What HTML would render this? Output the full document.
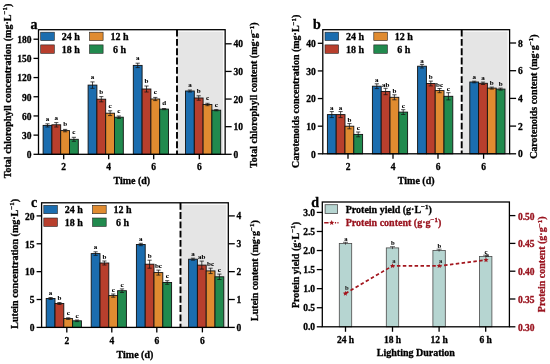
<!DOCTYPE html>
<html><head><meta charset="utf-8"><style>
html,body{margin:0;padding:0;background:#fff;}
svg{display:block;will-change:transform;}
text{font-family:"Liberation Serif", serif;font-weight:bold;stroke-width:0.3px;}
</style></head><body>
<svg width="550" height="364" viewBox="0 0 550 364">
<rect width="550" height="364" fill="#fff"/>
<rect x="177.00" y="31.70" width="46.15" height="122.60" fill="#e5e5e5"/>
<rect x="43.10" y="125.40" width="8.80" height="28.90" fill="#1b6daf" stroke="#111" stroke-width="0.9"/>
<path d="M47.50 123.80V127.00M45.40 123.80H49.60M45.40 127.00H49.60" stroke="#111" stroke-width="0.75" fill="none"/>
<text x="47.50" y="120.70" font-size="7.0" text-anchor="middle" fill="#000" stroke="#000" style="stroke-width:0.05px">a</text>
<rect x="51.90" y="124.80" width="8.80" height="29.50" fill="#b83f2d" stroke="#111" stroke-width="0.9"/>
<path d="M56.30 122.60V127.00M54.20 122.60H58.40M54.20 127.00H58.40" stroke="#111" stroke-width="0.75" fill="none"/>
<text x="56.30" y="119.50" font-size="7.0" text-anchor="middle" fill="#000" stroke="#000" style="stroke-width:0.05px">a</text>
<rect x="60.70" y="130.60" width="8.80" height="23.70" fill="#e08b30" stroke="#111" stroke-width="0.9"/>
<path d="M65.10 129.40V131.80M63.00 129.40H67.20M63.00 131.80H67.20" stroke="#111" stroke-width="0.75" fill="none"/>
<text x="65.10" y="126.30" font-size="7.0" text-anchor="middle" fill="#000" stroke="#000" style="stroke-width:0.05px">b</text>
<rect x="69.50" y="139.30" width="8.80" height="15.00" fill="#218a4e" stroke="#111" stroke-width="0.9"/>
<path d="M73.90 137.30V141.30M71.80 137.30H76.00M71.80 141.30H76.00" stroke="#111" stroke-width="0.75" fill="none"/>
<text x="73.90" y="134.20" font-size="7.0" text-anchor="middle" fill="#000" stroke="#000" style="stroke-width:0.05px">c</text>
<rect x="88.10" y="85.10" width="8.80" height="69.20" fill="#1b6daf" stroke="#111" stroke-width="0.9"/>
<path d="M92.50 81.90V88.30M90.40 81.90H94.60M90.40 88.30H94.60" stroke="#111" stroke-width="0.75" fill="none"/>
<text x="92.50" y="78.80" font-size="7.0" text-anchor="middle" fill="#000" stroke="#000" style="stroke-width:0.05px">a</text>
<rect x="96.90" y="99.20" width="8.80" height="55.10" fill="#b83f2d" stroke="#111" stroke-width="0.9"/>
<path d="M101.30 96.60V101.80M99.20 96.60H103.40M99.20 101.80H103.40" stroke="#111" stroke-width="0.75" fill="none"/>
<text x="101.30" y="93.50" font-size="7.0" text-anchor="middle" fill="#000" stroke="#000" style="stroke-width:0.05px">b</text>
<rect x="105.70" y="113.20" width="8.80" height="41.10" fill="#e08b30" stroke="#111" stroke-width="0.9"/>
<path d="M110.10 110.80V115.60M108.00 110.80H112.20M108.00 115.60H112.20" stroke="#111" stroke-width="0.75" fill="none"/>
<text x="110.10" y="107.70" font-size="7.0" text-anchor="middle" fill="#000" stroke="#000" style="stroke-width:0.05px">c</text>
<rect x="114.50" y="117.20" width="8.80" height="37.10" fill="#218a4e" stroke="#111" stroke-width="0.9"/>
<path d="M118.90 116.00V118.40M116.80 116.00H121.00M116.80 118.40H121.00" stroke="#111" stroke-width="0.75" fill="none"/>
<text x="118.90" y="112.90" font-size="7.0" text-anchor="middle" fill="#000" stroke="#000" style="stroke-width:0.05px">c</text>
<rect x="133.30" y="65.40" width="8.80" height="88.90" fill="#1b6daf" stroke="#111" stroke-width="0.9"/>
<path d="M137.70 63.20V67.60M135.60 63.20H139.80M135.60 67.60H139.80" stroke="#111" stroke-width="0.75" fill="none"/>
<text x="137.70" y="60.10" font-size="7.0" text-anchor="middle" fill="#000" stroke="#000" style="stroke-width:0.05px">a</text>
<rect x="142.10" y="89.00" width="8.80" height="65.30" fill="#b83f2d" stroke="#111" stroke-width="0.9"/>
<path d="M146.50 86.00V92.00M144.40 86.00H148.60M144.40 92.00H148.60" stroke="#111" stroke-width="0.75" fill="none"/>
<text x="146.50" y="82.90" font-size="7.0" text-anchor="middle" fill="#000" stroke="#000" style="stroke-width:0.05px">b</text>
<rect x="150.90" y="99.00" width="8.80" height="55.30" fill="#e08b30" stroke="#111" stroke-width="0.9"/>
<path d="M155.30 97.40V100.60M153.20 97.40H157.40M153.20 100.60H157.40" stroke="#111" stroke-width="0.75" fill="none"/>
<text x="155.30" y="94.30" font-size="7.0" text-anchor="middle" fill="#000" stroke="#000" style="stroke-width:0.05px">c</text>
<rect x="159.70" y="109.10" width="8.80" height="45.20" fill="#218a4e" stroke="#111" stroke-width="0.9"/>
<path d="M164.10 108.50V109.70M162.00 108.50H166.20M162.00 109.70H166.20" stroke="#111" stroke-width="0.75" fill="none"/>
<text x="164.10" y="105.40" font-size="7.0" text-anchor="middle" fill="#000" stroke="#000" style="stroke-width:0.05px">d</text>
<rect x="185.50" y="91.00" width="8.80" height="63.30" fill="#1b6daf" stroke="#111" stroke-width="0.9"/>
<path d="M189.90 90.00V92.00M187.80 90.00H192.00M187.80 92.00H192.00" stroke="#111" stroke-width="0.75" fill="none"/>
<text x="189.90" y="86.90" font-size="7.0" text-anchor="middle" fill="#000" stroke="#000" style="stroke-width:0.05px">a</text>
<rect x="194.30" y="98.00" width="8.80" height="56.30" fill="#b83f2d" stroke="#111" stroke-width="0.9"/>
<path d="M198.70 95.80V100.20M196.60 95.80H200.80M196.60 100.20H200.80" stroke="#111" stroke-width="0.75" fill="none"/>
<text x="198.70" y="92.70" font-size="7.0" text-anchor="middle" fill="#000" stroke="#000" style="stroke-width:0.05px">b</text>
<rect x="203.10" y="104.50" width="8.80" height="49.80" fill="#e08b30" stroke="#111" stroke-width="0.9"/>
<path d="M207.50 103.30V105.70M205.40 103.30H209.60M205.40 105.70H209.60" stroke="#111" stroke-width="0.75" fill="none"/>
<text x="207.50" y="100.20" font-size="7.0" text-anchor="middle" fill="#000" stroke="#000" style="stroke-width:0.05px">c</text>
<rect x="211.90" y="110.20" width="8.80" height="44.10" fill="#218a4e" stroke="#111" stroke-width="0.9"/>
<path d="M216.30 109.60V110.80M214.20 109.60H218.40M214.20 110.80H218.40" stroke="#111" stroke-width="0.75" fill="none"/>
<text x="216.30" y="106.50" font-size="7.0" text-anchor="middle" fill="#000" stroke="#000" style="stroke-width:0.05px">c</text>
<line x1="177.00" y1="29.70" x2="177.00" y2="154.30" stroke="#000" stroke-width="1.9" stroke-dasharray="6.85 2.45"/>
<rect x="38.50" y="29.70" width="186.65" height="124.60" fill="none" stroke="#000" stroke-width="1.3"/>
<line x1="33.50" y1="154.30" x2="38.50" y2="154.30" stroke="#000" stroke-width="1.3"/>
<text x="31.50" y="158.10" font-size="9.5" text-anchor="end" fill="#000" stroke="#000" >0</text>
<line x1="33.50" y1="135.12" x2="38.50" y2="135.12" stroke="#000" stroke-width="1.3"/>
<text x="31.50" y="138.92" font-size="9.5" text-anchor="end" fill="#000" stroke="#000" >30</text>
<line x1="33.50" y1="115.94" x2="38.50" y2="115.94" stroke="#000" stroke-width="1.3"/>
<text x="31.50" y="119.74" font-size="9.5" text-anchor="end" fill="#000" stroke="#000" >60</text>
<line x1="33.50" y1="96.75" x2="38.50" y2="96.75" stroke="#000" stroke-width="1.3"/>
<text x="31.50" y="100.55" font-size="9.5" text-anchor="end" fill="#000" stroke="#000" >90</text>
<line x1="33.50" y1="77.57" x2="38.50" y2="77.57" stroke="#000" stroke-width="1.3"/>
<text x="31.50" y="81.37" font-size="9.5" text-anchor="end" fill="#000" stroke="#000" >120</text>
<line x1="33.50" y1="58.39" x2="38.50" y2="58.39" stroke="#000" stroke-width="1.3"/>
<text x="31.50" y="62.19" font-size="9.5" text-anchor="end" fill="#000" stroke="#000" >150</text>
<line x1="33.50" y1="39.21" x2="38.50" y2="39.21" stroke="#000" stroke-width="1.3"/>
<text x="31.50" y="43.01" font-size="9.5" text-anchor="end" fill="#000" stroke="#000" >180</text>
<line x1="225.15" y1="154.30" x2="231.65" y2="154.30" stroke="#000" stroke-width="1.3"/>
<text x="233.45" y="157.80" font-size="9.5" text-anchor="start" fill="#000" stroke="#000" >0</text>
<line x1="225.15" y1="126.68" x2="231.65" y2="126.68" stroke="#000" stroke-width="1.3"/>
<text x="233.45" y="130.18" font-size="9.5" text-anchor="start" fill="#000" stroke="#000" >10</text>
<line x1="225.15" y1="99.05" x2="231.65" y2="99.05" stroke="#000" stroke-width="1.3"/>
<text x="233.45" y="102.55" font-size="9.5" text-anchor="start" fill="#000" stroke="#000" >20</text>
<line x1="225.15" y1="71.43" x2="231.65" y2="71.43" stroke="#000" stroke-width="1.3"/>
<text x="233.45" y="74.93" font-size="9.5" text-anchor="start" fill="#000" stroke="#000" >30</text>
<line x1="225.15" y1="43.80" x2="231.65" y2="43.80" stroke="#000" stroke-width="1.3"/>
<text x="233.45" y="47.30" font-size="9.5" text-anchor="start" fill="#000" stroke="#000" >40</text>
<line x1="63.70" y1="154.30" x2="63.70" y2="159.30" stroke="#000" stroke-width="1.3"/>
<text x="63.70" y="169.70" font-size="9.5" text-anchor="middle" fill="#000" stroke="#000" >2</text>
<line x1="108.70" y1="154.30" x2="108.70" y2="159.30" stroke="#000" stroke-width="1.3"/>
<text x="108.70" y="169.70" font-size="9.5" text-anchor="middle" fill="#000" stroke="#000" >4</text>
<line x1="153.70" y1="154.30" x2="153.70" y2="159.30" stroke="#000" stroke-width="1.3"/>
<text x="153.70" y="169.70" font-size="9.5" text-anchor="middle" fill="#000" stroke="#000" >6</text>
<line x1="199.30" y1="154.30" x2="199.30" y2="159.30" stroke="#000" stroke-width="1.3"/>
<text x="199.30" y="169.70" font-size="9.5" text-anchor="middle" fill="#000" stroke="#000" >6</text>
<rect x="40.70" y="32.20" width="13.6" height="8.4" fill="#1b6daf" stroke="#222" stroke-width="0.6"/>
<text x="70.70" y="40.00" font-size="10" text-anchor="middle" fill="#000" stroke="#000" >24 h</text>
<rect x="40.70" y="44.90" width="13.6" height="8.4" fill="#b83f2d" stroke="#222" stroke-width="0.6"/>
<text x="70.70" y="52.70" font-size="10" text-anchor="middle" fill="#000" stroke="#000" >18 h</text>
<rect x="89.50" y="32.20" width="13.6" height="8.4" fill="#e08b30" stroke="#222" stroke-width="0.6"/>
<text x="119.50" y="40.00" font-size="10" text-anchor="middle" fill="#000" stroke="#000" >12 h</text>
<rect x="89.50" y="44.90" width="13.6" height="8.4" fill="#218a4e" stroke="#222" stroke-width="0.6"/>
<text x="119.50" y="52.70" font-size="10" text-anchor="middle" fill="#000" stroke="#000" >6 h</text>
<text x="30.40" y="29.00" font-size="14" text-anchor="start" fill="#000" stroke="#000" >a</text>
<text x="131.82" y="183.70" font-size="10" text-anchor="middle" fill="#000" stroke="#000" >Time (d)</text>
<text transform="translate(10.60,91.00) rotate(-90)" x="0" y="0" font-size="10" text-anchor="middle" fill="#000" stroke="#000">Total chlorophyll concentration (mg·L<tspan font-size="7.00" dy="-3.60">−1</tspan><tspan dy="3.60">)</tspan></text>
<text transform="translate(257.30,95.10) rotate(-90)" x="0" y="0" font-size="10" text-anchor="middle" fill="#000" stroke="#000">Total chlorophyll content (mg·g<tspan font-size="7.00" dy="-3.60">−1</tspan><tspan dy="3.60">)</tspan></text>
<rect x="461.70" y="31.70" width="45.90" height="122.10" fill="#e5e5e5"/>
<rect x="327.40" y="114.60" width="8.80" height="39.20" fill="#1b6daf" stroke="#111" stroke-width="0.9"/>
<path d="M331.80 111.60V117.60M329.70 111.60H333.90M329.70 117.60H333.90" stroke="#111" stroke-width="0.75" fill="none"/>
<text x="331.80" y="109.80" font-size="7.0" text-anchor="middle" fill="#000" stroke="#000" style="stroke-width:0.05px">a</text>
<rect x="336.20" y="114.60" width="8.80" height="39.20" fill="#b83f2d" stroke="#111" stroke-width="0.9"/>
<path d="M340.60 111.60V117.60M338.50 111.60H342.70M338.50 117.60H342.70" stroke="#111" stroke-width="0.75" fill="none"/>
<text x="340.60" y="109.80" font-size="7.0" text-anchor="middle" fill="#000" stroke="#000" style="stroke-width:0.05px">a</text>
<rect x="345.00" y="126.20" width="8.80" height="27.60" fill="#e08b30" stroke="#111" stroke-width="0.9"/>
<path d="M349.40 123.60V128.80M347.30 123.60H351.50M347.30 128.80H351.50" stroke="#111" stroke-width="0.75" fill="none"/>
<text x="349.40" y="121.80" font-size="7.0" text-anchor="middle" fill="#000" stroke="#000" style="stroke-width:0.05px">b</text>
<rect x="353.80" y="134.40" width="8.80" height="19.40" fill="#218a4e" stroke="#111" stroke-width="0.9"/>
<path d="M358.20 132.00V136.80M356.10 132.00H360.30M356.10 136.80H360.30" stroke="#111" stroke-width="0.75" fill="none"/>
<text x="358.20" y="130.20" font-size="7.0" text-anchor="middle" fill="#000" stroke="#000" style="stroke-width:0.05px">c</text>
<rect x="372.40" y="86.20" width="8.80" height="67.60" fill="#1b6daf" stroke="#111" stroke-width="0.9"/>
<path d="M376.80 83.80V88.60M374.70 83.80H378.90M374.70 88.60H378.90" stroke="#111" stroke-width="0.75" fill="none"/>
<text x="376.80" y="82.00" font-size="7.0" text-anchor="middle" fill="#000" stroke="#000" style="stroke-width:0.05px">a</text>
<rect x="381.20" y="91.50" width="8.80" height="62.30" fill="#b83f2d" stroke="#111" stroke-width="0.9"/>
<path d="M385.60 88.30V94.70M383.50 88.30H387.70M383.50 94.70H387.70" stroke="#111" stroke-width="0.75" fill="none"/>
<text x="385.60" y="86.50" font-size="7.0" text-anchor="middle" fill="#000" stroke="#000" style="stroke-width:0.05px">ab</text>
<rect x="390.00" y="97.30" width="8.80" height="56.50" fill="#e08b30" stroke="#111" stroke-width="0.9"/>
<path d="M394.40 94.80V99.80M392.30 94.80H396.50M392.30 99.80H396.50" stroke="#111" stroke-width="0.75" fill="none"/>
<text x="394.40" y="93.00" font-size="7.0" text-anchor="middle" fill="#000" stroke="#000" style="stroke-width:0.05px">b</text>
<rect x="398.80" y="112.10" width="8.80" height="41.70" fill="#218a4e" stroke="#111" stroke-width="0.9"/>
<path d="M403.20 109.70V114.50M401.10 109.70H405.30M401.10 114.50H405.30" stroke="#111" stroke-width="0.75" fill="none"/>
<text x="403.20" y="107.90" font-size="7.0" text-anchor="middle" fill="#000" stroke="#000" style="stroke-width:0.05px">c</text>
<rect x="417.60" y="66.20" width="8.80" height="87.60" fill="#1b6daf" stroke="#111" stroke-width="0.9"/>
<path d="M422.00 64.40V68.00M419.90 64.40H424.10M419.90 68.00H424.10" stroke="#111" stroke-width="0.75" fill="none"/>
<text x="422.00" y="62.60" font-size="7.0" text-anchor="middle" fill="#000" stroke="#000" style="stroke-width:0.05px">a</text>
<rect x="426.40" y="83.50" width="8.80" height="70.30" fill="#b83f2d" stroke="#111" stroke-width="0.9"/>
<path d="M430.80 81.10V85.90M428.70 81.10H432.90M428.70 85.90H432.90" stroke="#111" stroke-width="0.75" fill="none"/>
<text x="430.80" y="79.30" font-size="7.0" text-anchor="middle" fill="#000" stroke="#000" style="stroke-width:0.05px">b</text>
<rect x="435.20" y="90.60" width="8.80" height="63.20" fill="#e08b30" stroke="#111" stroke-width="0.9"/>
<path d="M439.60 88.50V92.70M437.50 88.50H441.70M437.50 92.70H441.70" stroke="#111" stroke-width="0.75" fill="none"/>
<text x="439.60" y="86.70" font-size="7.0" text-anchor="middle" fill="#000" stroke="#000" style="stroke-width:0.05px">bc</text>
<rect x="444.00" y="96.30" width="8.80" height="57.50" fill="#218a4e" stroke="#111" stroke-width="0.9"/>
<path d="M448.40 92.70V99.90M446.30 92.70H450.50M446.30 99.90H450.50" stroke="#111" stroke-width="0.75" fill="none"/>
<text x="448.40" y="90.90" font-size="7.0" text-anchor="middle" fill="#000" stroke="#000" style="stroke-width:0.05px">c</text>
<rect x="469.80" y="82.00" width="8.80" height="71.80" fill="#1b6daf" stroke="#111" stroke-width="0.9"/>
<path d="M474.20 81.20V82.80M472.10 81.20H476.30M472.10 82.80H476.30" stroke="#111" stroke-width="0.75" fill="none"/>
<text x="474.20" y="79.40" font-size="7.0" text-anchor="middle" fill="#000" stroke="#000" style="stroke-width:0.05px">a</text>
<rect x="478.60" y="83.30" width="8.80" height="70.50" fill="#b83f2d" stroke="#111" stroke-width="0.9"/>
<path d="M483.00 82.10V84.50M480.90 82.10H485.10M480.90 84.50H485.10" stroke="#111" stroke-width="0.75" fill="none"/>
<text x="483.00" y="80.30" font-size="7.0" text-anchor="middle" fill="#000" stroke="#000" style="stroke-width:0.05px">a</text>
<rect x="487.40" y="88.10" width="8.80" height="65.70" fill="#e08b30" stroke="#111" stroke-width="0.9"/>
<path d="M491.80 87.10V89.10M489.70 87.10H493.90M489.70 89.10H493.90" stroke="#111" stroke-width="0.75" fill="none"/>
<text x="491.80" y="85.30" font-size="7.0" text-anchor="middle" fill="#000" stroke="#000" style="stroke-width:0.05px">b</text>
<rect x="496.20" y="89.10" width="8.80" height="64.70" fill="#218a4e" stroke="#111" stroke-width="0.9"/>
<path d="M500.60 88.10V90.10M498.50 88.10H502.70M498.50 90.10H502.70" stroke="#111" stroke-width="0.75" fill="none"/>
<text x="500.60" y="86.30" font-size="7.0" text-anchor="middle" fill="#000" stroke="#000" style="stroke-width:0.05px">b</text>
<line x1="461.70" y1="29.70" x2="461.70" y2="153.80" stroke="#000" stroke-width="1.9" stroke-dasharray="6.85 2.45"/>
<rect x="322.80" y="29.70" width="186.80" height="124.10" fill="none" stroke="#000" stroke-width="1.3"/>
<line x1="317.80" y1="153.80" x2="322.80" y2="153.80" stroke="#000" stroke-width="1.3"/>
<text x="315.80" y="157.60" font-size="9.5" text-anchor="end" fill="#000" stroke="#000" >0</text>
<line x1="317.80" y1="126.18" x2="322.80" y2="126.18" stroke="#000" stroke-width="1.3"/>
<text x="315.80" y="129.98" font-size="9.5" text-anchor="end" fill="#000" stroke="#000" >10</text>
<line x1="317.80" y1="98.55" x2="322.80" y2="98.55" stroke="#000" stroke-width="1.3"/>
<text x="315.80" y="102.35" font-size="9.5" text-anchor="end" fill="#000" stroke="#000" >20</text>
<line x1="317.80" y1="70.93" x2="322.80" y2="70.93" stroke="#000" stroke-width="1.3"/>
<text x="315.80" y="74.73" font-size="9.5" text-anchor="end" fill="#000" stroke="#000" >30</text>
<line x1="317.80" y1="43.30" x2="322.80" y2="43.30" stroke="#000" stroke-width="1.3"/>
<text x="315.80" y="47.10" font-size="9.5" text-anchor="end" fill="#000" stroke="#000" >40</text>
<line x1="509.60" y1="153.80" x2="516.10" y2="153.80" stroke="#000" stroke-width="1.3"/>
<text x="517.90" y="157.30" font-size="9.5" text-anchor="start" fill="#000" stroke="#000" >0</text>
<line x1="509.60" y1="126.10" x2="516.10" y2="126.10" stroke="#000" stroke-width="1.3"/>
<text x="517.90" y="129.60" font-size="9.5" text-anchor="start" fill="#000" stroke="#000" >2</text>
<line x1="509.60" y1="98.40" x2="516.10" y2="98.40" stroke="#000" stroke-width="1.3"/>
<text x="517.90" y="101.90" font-size="9.5" text-anchor="start" fill="#000" stroke="#000" >4</text>
<line x1="509.60" y1="70.70" x2="516.10" y2="70.70" stroke="#000" stroke-width="1.3"/>
<text x="517.90" y="74.20" font-size="9.5" text-anchor="start" fill="#000" stroke="#000" >6</text>
<line x1="509.60" y1="43.00" x2="516.10" y2="43.00" stroke="#000" stroke-width="1.3"/>
<text x="517.90" y="46.50" font-size="9.5" text-anchor="start" fill="#000" stroke="#000" >8</text>
<line x1="348.00" y1="153.80" x2="348.00" y2="158.80" stroke="#000" stroke-width="1.3"/>
<text x="348.00" y="170.20" font-size="9.5" text-anchor="middle" fill="#000" stroke="#000" >2</text>
<line x1="393.00" y1="153.80" x2="393.00" y2="158.80" stroke="#000" stroke-width="1.3"/>
<text x="393.00" y="170.20" font-size="9.5" text-anchor="middle" fill="#000" stroke="#000" >4</text>
<line x1="438.00" y1="153.80" x2="438.00" y2="158.80" stroke="#000" stroke-width="1.3"/>
<text x="438.00" y="170.20" font-size="9.5" text-anchor="middle" fill="#000" stroke="#000" >6</text>
<line x1="483.60" y1="153.80" x2="483.60" y2="158.80" stroke="#000" stroke-width="1.3"/>
<text x="483.60" y="170.20" font-size="9.5" text-anchor="middle" fill="#000" stroke="#000" >6</text>
<rect x="325.00" y="32.20" width="13.6" height="8.4" fill="#1b6daf" stroke="#222" stroke-width="0.6"/>
<text x="355.00" y="40.00" font-size="10" text-anchor="middle" fill="#000" stroke="#000" >24 h</text>
<rect x="325.00" y="44.90" width="13.6" height="8.4" fill="#b83f2d" stroke="#222" stroke-width="0.6"/>
<text x="355.00" y="52.70" font-size="10" text-anchor="middle" fill="#000" stroke="#000" >18 h</text>
<rect x="373.80" y="32.20" width="13.6" height="8.4" fill="#e08b30" stroke="#222" stroke-width="0.6"/>
<text x="403.80" y="40.00" font-size="10" text-anchor="middle" fill="#000" stroke="#000" >12 h</text>
<rect x="373.80" y="44.90" width="13.6" height="8.4" fill="#218a4e" stroke="#222" stroke-width="0.6"/>
<text x="403.80" y="52.70" font-size="10" text-anchor="middle" fill="#000" stroke="#000" >6 h</text>
<text x="313.00" y="29.00" font-size="14" text-anchor="start" fill="#000" stroke="#000" >b</text>
<text x="416.20" y="184.20" font-size="10" text-anchor="middle" fill="#000" stroke="#000" >Time (d)</text>
<text transform="translate(299.30,91.25) rotate(-90)" x="0" y="0" font-size="10" text-anchor="middle" fill="#000" stroke="#000">Carotenoids concentration (mg·L<tspan font-size="7.00" dy="-3.60">−1</tspan><tspan dy="3.60">)</tspan></text>
<text transform="translate(537.00,96.60) rotate(-90)" x="0" y="0" font-size="10" text-anchor="middle" fill="#000" stroke="#000">Carotenoids content (mg·g<tspan font-size="7.00" dy="-3.60">−1</tspan><tspan dy="3.60">)</tspan></text>
<rect x="180.50" y="204.80" width="45.80" height="122.60" fill="#e5e5e5"/>
<rect x="46.20" y="298.50" width="8.80" height="28.90" fill="#1b6daf" stroke="#111" stroke-width="0.9"/>
<path d="M50.60 297.50V299.50M48.50 297.50H52.70M48.50 299.50H52.70" stroke="#111" stroke-width="0.75" fill="none"/>
<text x="50.60" y="295.10" font-size="7.0" text-anchor="middle" fill="#000" stroke="#000" style="stroke-width:0.05px">a</text>
<rect x="55.00" y="303.50" width="8.80" height="23.90" fill="#b83f2d" stroke="#111" stroke-width="0.9"/>
<path d="M59.40 302.50V304.50M57.30 302.50H61.50M57.30 304.50H61.50" stroke="#111" stroke-width="0.75" fill="none"/>
<text x="59.40" y="300.10" font-size="7.0" text-anchor="middle" fill="#000" stroke="#000" style="stroke-width:0.05px">b</text>
<rect x="63.80" y="318.60" width="8.80" height="8.80" fill="#e08b30" stroke="#111" stroke-width="0.9"/>
<path d="M68.20 317.80V319.40M66.10 317.80H70.30M66.10 319.40H70.30" stroke="#111" stroke-width="0.75" fill="none"/>
<text x="68.20" y="315.40" font-size="7.0" text-anchor="middle" fill="#000" stroke="#000" style="stroke-width:0.05px">c</text>
<rect x="72.60" y="320.80" width="8.80" height="6.60" fill="#218a4e" stroke="#111" stroke-width="0.9"/>
<path d="M77.00 320.00V321.60M74.90 320.00H79.10M74.90 321.60H79.10" stroke="#111" stroke-width="0.75" fill="none"/>
<text x="77.00" y="317.60" font-size="7.0" text-anchor="middle" fill="#000" stroke="#000" style="stroke-width:0.05px">c</text>
<rect x="91.20" y="253.60" width="8.80" height="73.80" fill="#1b6daf" stroke="#111" stroke-width="0.9"/>
<path d="M95.60 251.80V255.40M93.50 251.80H97.70M93.50 255.40H97.70" stroke="#111" stroke-width="0.75" fill="none"/>
<text x="95.60" y="249.40" font-size="7.0" text-anchor="middle" fill="#000" stroke="#000" style="stroke-width:0.05px">a</text>
<rect x="100.00" y="263.00" width="8.80" height="64.40" fill="#b83f2d" stroke="#111" stroke-width="0.9"/>
<path d="M104.40 261.00V265.00M102.30 261.00H106.50M102.30 265.00H106.50" stroke="#111" stroke-width="0.75" fill="none"/>
<text x="104.40" y="258.60" font-size="7.0" text-anchor="middle" fill="#000" stroke="#000" style="stroke-width:0.05px">b</text>
<rect x="108.80" y="295.60" width="8.80" height="31.80" fill="#e08b30" stroke="#111" stroke-width="0.9"/>
<path d="M113.20 294.00V297.20M111.10 294.00H115.30M111.10 297.20H115.30" stroke="#111" stroke-width="0.75" fill="none"/>
<text x="113.20" y="291.60" font-size="7.0" text-anchor="middle" fill="#000" stroke="#000" style="stroke-width:0.05px">c</text>
<rect x="117.60" y="290.70" width="8.80" height="36.70" fill="#218a4e" stroke="#111" stroke-width="0.9"/>
<path d="M122.00 288.90V292.50M119.90 288.90H124.10M119.90 292.50H124.10" stroke="#111" stroke-width="0.75" fill="none"/>
<text x="122.00" y="286.50" font-size="7.0" text-anchor="middle" fill="#000" stroke="#000" style="stroke-width:0.05px">c</text>
<rect x="136.40" y="244.50" width="8.80" height="82.90" fill="#1b6daf" stroke="#111" stroke-width="0.9"/>
<path d="M140.80 243.30V245.70M138.70 243.30H142.90M138.70 245.70H142.90" stroke="#111" stroke-width="0.75" fill="none"/>
<text x="140.80" y="240.90" font-size="7.0" text-anchor="middle" fill="#000" stroke="#000" style="stroke-width:0.05px">a</text>
<rect x="145.20" y="264.20" width="8.80" height="63.20" fill="#b83f2d" stroke="#111" stroke-width="0.9"/>
<path d="M149.60 260.20V268.20M147.50 260.20H151.70M147.50 268.20H151.70" stroke="#111" stroke-width="0.75" fill="none"/>
<text x="149.60" y="257.80" font-size="7.0" text-anchor="middle" fill="#000" stroke="#000" style="stroke-width:0.05px">b</text>
<rect x="154.00" y="272.60" width="8.80" height="54.80" fill="#e08b30" stroke="#111" stroke-width="0.9"/>
<path d="M158.40 270.10V275.10M156.30 270.10H160.50M156.30 275.10H160.50" stroke="#111" stroke-width="0.75" fill="none"/>
<text x="158.40" y="267.70" font-size="7.0" text-anchor="middle" fill="#000" stroke="#000" style="stroke-width:0.05px">bc</text>
<rect x="162.80" y="282.50" width="8.80" height="44.90" fill="#218a4e" stroke="#111" stroke-width="0.9"/>
<path d="M167.20 280.70V284.30M165.10 280.70H169.30M165.10 284.30H169.30" stroke="#111" stroke-width="0.75" fill="none"/>
<text x="167.20" y="278.30" font-size="7.0" text-anchor="middle" fill="#000" stroke="#000" style="stroke-width:0.05px">c</text>
<rect x="188.60" y="259.20" width="8.80" height="68.20" fill="#1b6daf" stroke="#111" stroke-width="0.9"/>
<path d="M193.00 258.20V260.20M190.90 258.20H195.10M190.90 260.20H195.10" stroke="#111" stroke-width="0.75" fill="none"/>
<text x="193.00" y="255.80" font-size="7.0" text-anchor="middle" fill="#000" stroke="#000" style="stroke-width:0.05px">a</text>
<rect x="197.40" y="265.10" width="8.80" height="62.30" fill="#b83f2d" stroke="#111" stroke-width="0.9"/>
<path d="M201.80 261.10V269.10M199.70 261.10H203.90M199.70 269.10H203.90" stroke="#111" stroke-width="0.75" fill="none"/>
<text x="201.80" y="258.70" font-size="7.0" text-anchor="middle" fill="#000" stroke="#000" style="stroke-width:0.05px">ab</text>
<rect x="206.20" y="270.90" width="8.80" height="56.50" fill="#e08b30" stroke="#111" stroke-width="0.9"/>
<path d="M210.60 268.20V273.60M208.50 268.20H212.70M208.50 273.60H212.70" stroke="#111" stroke-width="0.75" fill="none"/>
<text x="210.60" y="265.80" font-size="7.0" text-anchor="middle" fill="#000" stroke="#000" style="stroke-width:0.05px">bc</text>
<rect x="215.00" y="276.80" width="8.80" height="50.60" fill="#218a4e" stroke="#111" stroke-width="0.9"/>
<path d="M219.40 274.10V279.50M217.30 274.10H221.50M217.30 279.50H221.50" stroke="#111" stroke-width="0.75" fill="none"/>
<text x="219.40" y="271.70" font-size="7.0" text-anchor="middle" fill="#000" stroke="#000" style="stroke-width:0.05px">c</text>
<line x1="180.50" y1="202.80" x2="180.50" y2="327.40" stroke="#000" stroke-width="1.9" stroke-dasharray="6.85 2.45"/>
<rect x="41.60" y="202.80" width="186.70" height="124.60" fill="none" stroke="#000" stroke-width="1.3"/>
<line x1="36.60" y1="327.40" x2="41.60" y2="327.40" stroke="#000" stroke-width="1.3"/>
<text x="34.60" y="331.20" font-size="9.5" text-anchor="end" fill="#000" stroke="#000" >0</text>
<line x1="36.60" y1="299.52" x2="41.60" y2="299.52" stroke="#000" stroke-width="1.3"/>
<text x="34.60" y="303.32" font-size="9.5" text-anchor="end" fill="#000" stroke="#000" >5</text>
<line x1="36.60" y1="271.65" x2="41.60" y2="271.65" stroke="#000" stroke-width="1.3"/>
<text x="34.60" y="275.45" font-size="9.5" text-anchor="end" fill="#000" stroke="#000" >10</text>
<line x1="36.60" y1="243.77" x2="41.60" y2="243.77" stroke="#000" stroke-width="1.3"/>
<text x="34.60" y="247.57" font-size="9.5" text-anchor="end" fill="#000" stroke="#000" >15</text>
<line x1="36.60" y1="215.90" x2="41.60" y2="215.90" stroke="#000" stroke-width="1.3"/>
<text x="34.60" y="219.70" font-size="9.5" text-anchor="end" fill="#000" stroke="#000" >20</text>
<line x1="228.30" y1="327.40" x2="234.80" y2="327.40" stroke="#000" stroke-width="1.3"/>
<text x="236.60" y="330.90" font-size="9.5" text-anchor="start" fill="#000" stroke="#000" >0</text>
<line x1="228.30" y1="299.52" x2="234.80" y2="299.52" stroke="#000" stroke-width="1.3"/>
<text x="236.60" y="303.02" font-size="9.5" text-anchor="start" fill="#000" stroke="#000" >1</text>
<line x1="228.30" y1="271.65" x2="234.80" y2="271.65" stroke="#000" stroke-width="1.3"/>
<text x="236.60" y="275.15" font-size="9.5" text-anchor="start" fill="#000" stroke="#000" >2</text>
<line x1="228.30" y1="243.77" x2="234.80" y2="243.77" stroke="#000" stroke-width="1.3"/>
<text x="236.60" y="247.27" font-size="9.5" text-anchor="start" fill="#000" stroke="#000" >3</text>
<line x1="228.30" y1="215.90" x2="234.80" y2="215.90" stroke="#000" stroke-width="1.3"/>
<text x="236.60" y="219.40" font-size="9.5" text-anchor="start" fill="#000" stroke="#000" >4</text>
<line x1="66.80" y1="327.40" x2="66.80" y2="332.40" stroke="#000" stroke-width="1.3"/>
<text x="66.80" y="343.60" font-size="9.5" text-anchor="middle" fill="#000" stroke="#000" >2</text>
<line x1="111.80" y1="327.40" x2="111.80" y2="332.40" stroke="#000" stroke-width="1.3"/>
<text x="111.80" y="343.60" font-size="9.5" text-anchor="middle" fill="#000" stroke="#000" >4</text>
<line x1="156.80" y1="327.40" x2="156.80" y2="332.40" stroke="#000" stroke-width="1.3"/>
<text x="156.80" y="343.60" font-size="9.5" text-anchor="middle" fill="#000" stroke="#000" >6</text>
<line x1="202.40" y1="327.40" x2="202.40" y2="332.40" stroke="#000" stroke-width="1.3"/>
<text x="202.40" y="343.60" font-size="9.5" text-anchor="middle" fill="#000" stroke="#000" >6</text>
<rect x="43.80" y="205.30" width="13.6" height="8.4" fill="#1b6daf" stroke="#222" stroke-width="0.6"/>
<text x="73.80" y="213.10" font-size="10" text-anchor="middle" fill="#000" stroke="#000" >24 h</text>
<rect x="43.80" y="218.00" width="13.6" height="8.4" fill="#b83f2d" stroke="#222" stroke-width="0.6"/>
<text x="73.80" y="225.80" font-size="10" text-anchor="middle" fill="#000" stroke="#000" >18 h</text>
<rect x="92.60" y="205.30" width="13.6" height="8.4" fill="#e08b30" stroke="#222" stroke-width="0.6"/>
<text x="122.60" y="213.10" font-size="10" text-anchor="middle" fill="#000" stroke="#000" >12 h</text>
<rect x="92.60" y="218.00" width="13.6" height="8.4" fill="#218a4e" stroke="#222" stroke-width="0.6"/>
<text x="122.60" y="225.80" font-size="10" text-anchor="middle" fill="#000" stroke="#000" >6 h</text>
<text x="31.00" y="206.70" font-size="14" text-anchor="start" fill="#000" stroke="#000" >c</text>
<text x="134.95" y="357.60" font-size="10" text-anchor="middle" fill="#000" stroke="#000" >Time (d)</text>
<text transform="translate(17.60,263.80) rotate(-90)" x="0" y="0" font-size="10" text-anchor="middle" fill="#000" stroke="#000">Lutein concentration (mg·L<tspan font-size="7.00" dy="-3.60">−1</tspan><tspan dy="3.60">)</tspan></text>
<text transform="translate(258.00,270.50) rotate(-90)" x="0" y="0" font-size="10" text-anchor="middle" fill="#000" stroke="#000">Lutein content (mg·g<tspan font-size="7.00" dy="-3.60">−1</tspan><tspan dy="3.60">)</tspan></text>
<rect x="339.30" y="243.50" width="12.4" height="83.30" fill="#b6d5d1" stroke="#4a4a4a" stroke-width="0.8"/>
<path d="M345.50 242.30V244.70M343.00 242.30H348.00" stroke="#222" stroke-width="0.7"/>
<text x="345.80" y="240.80" font-size="6.6" text-anchor="middle" fill="#000" stroke="#000" style="stroke-width:0.05px">a</text>
<rect x="386.30" y="247.90" width="12.4" height="78.90" fill="#b6d5d1" stroke="#4a4a4a" stroke-width="0.8"/>
<path d="M392.50 246.70V249.10M390.00 246.70H395.00" stroke="#222" stroke-width="0.7"/>
<text x="392.80" y="245.20" font-size="6.6" text-anchor="middle" fill="#000" stroke="#000" style="stroke-width:0.05px">b</text>
<rect x="432.90" y="250.40" width="12.4" height="76.40" fill="#b6d5d1" stroke="#4a4a4a" stroke-width="0.8"/>
<path d="M439.10 249.20V251.60M436.60 249.20H441.60" stroke="#222" stroke-width="0.7"/>
<text x="439.40" y="247.70" font-size="6.6" text-anchor="middle" fill="#000" stroke="#000" style="stroke-width:0.05px">b</text>
<rect x="479.50" y="256.40" width="12.4" height="70.40" fill="#b6d5d1" stroke="#4a4a4a" stroke-width="0.8"/>
<path d="M485.70 255.20V257.60M483.20 255.20H488.20" stroke="#222" stroke-width="0.7"/>
<text x="486.00" y="253.70" font-size="6.6" text-anchor="middle" fill="#000" stroke="#000" style="stroke-width:0.05px">c</text>
<polyline points="345.40,293.50 392.50,265.90 439.20,265.90 486.00,260.00" fill="none" stroke="#a3161e" stroke-width="1.7" stroke-dasharray="3.5 2.4"/>
<polygon points="345.40,290.80 346.11,292.52 347.97,292.67 346.56,293.88 346.99,295.68 345.40,294.71 343.81,295.68 344.24,293.88 342.83,292.67 344.69,292.52" fill="#a3161e"/>
<text x="346.90" y="290.30" font-size="6.6" text-anchor="middle" fill="#222" stroke="#222" style="stroke-width:0.05px">b</text>
<polygon points="392.50,263.20 393.21,264.92 395.07,265.07 393.66,266.28 394.09,268.08 392.50,267.11 390.91,268.08 391.34,266.28 389.93,265.07 391.79,264.92" fill="#a3161e"/>
<text x="394.00" y="262.70" font-size="6.6" text-anchor="middle" fill="#222" stroke="#222" style="stroke-width:0.05px">a</text>
<polygon points="439.20,263.20 439.91,264.92 441.77,265.07 440.36,266.28 440.79,268.08 439.20,267.11 437.61,268.08 438.04,266.28 436.63,265.07 438.49,264.92" fill="#a3161e"/>
<text x="440.70" y="262.70" font-size="6.6" text-anchor="middle" fill="#222" stroke="#222" style="stroke-width:0.05px">a</text>
<polygon points="486.00,257.30 486.71,259.02 488.57,259.17 487.16,260.38 487.59,262.18 486.00,261.21 484.41,262.18 484.84,260.38 483.43,259.17 485.29,259.02" fill="#a3161e"/>
<text x="487.50" y="256.80" font-size="6.6" text-anchor="middle" fill="#222" stroke="#222" style="stroke-width:0.05px">a</text>
<rect x="322.30" y="202.00" width="187.10" height="124.80" fill="none" stroke="#000" stroke-width="1.3"/>
<line x1="316.80" y1="326.80" x2="322.30" y2="326.80" stroke="#000" stroke-width="1.3"/>
<text x="315.00" y="330.30" font-size="9.5" text-anchor="end" fill="#000" stroke="#000" >0.0</text>
<line x1="316.80" y1="307.74" x2="322.30" y2="307.74" stroke="#000" stroke-width="1.3"/>
<text x="315.00" y="311.24" font-size="9.5" text-anchor="end" fill="#000" stroke="#000" >0.5</text>
<line x1="316.80" y1="288.67" x2="322.30" y2="288.67" stroke="#000" stroke-width="1.3"/>
<text x="315.00" y="292.17" font-size="9.5" text-anchor="end" fill="#000" stroke="#000" >1.0</text>
<line x1="316.80" y1="269.61" x2="322.30" y2="269.61" stroke="#000" stroke-width="1.3"/>
<text x="315.00" y="273.11" font-size="9.5" text-anchor="end" fill="#000" stroke="#000" >1.5</text>
<line x1="316.80" y1="250.54" x2="322.30" y2="250.54" stroke="#000" stroke-width="1.3"/>
<text x="315.00" y="254.04" font-size="9.5" text-anchor="end" fill="#000" stroke="#000" >2.0</text>
<line x1="316.80" y1="231.48" x2="322.30" y2="231.48" stroke="#000" stroke-width="1.3"/>
<text x="315.00" y="234.98" font-size="9.5" text-anchor="end" fill="#000" stroke="#000" >2.5</text>
<line x1="316.80" y1="212.41" x2="322.30" y2="212.41" stroke="#000" stroke-width="1.3"/>
<text x="315.00" y="215.91" font-size="9.5" text-anchor="end" fill="#000" stroke="#000" >3.0</text>
<line x1="509.40" y1="326.80" x2="515.40" y2="326.80" stroke="#000" stroke-width="1.3"/>
<text x="517.90" y="330.80" font-size="9.5" text-anchor="start" fill="#9a1520" stroke="#9a1520" >0.30</text>
<line x1="509.40" y1="299.00" x2="515.40" y2="299.00" stroke="#000" stroke-width="1.3"/>
<text x="517.90" y="303.00" font-size="9.5" text-anchor="start" fill="#9a1520" stroke="#9a1520" >0.35</text>
<line x1="509.40" y1="271.20" x2="515.40" y2="271.20" stroke="#000" stroke-width="1.3"/>
<text x="517.90" y="275.20" font-size="9.5" text-anchor="start" fill="#9a1520" stroke="#9a1520" >0.40</text>
<line x1="509.40" y1="243.40" x2="515.40" y2="243.40" stroke="#000" stroke-width="1.3"/>
<text x="517.90" y="247.40" font-size="9.5" text-anchor="start" fill="#9a1520" stroke="#9a1520" >0.45</text>
<line x1="509.40" y1="215.60" x2="515.40" y2="215.60" stroke="#000" stroke-width="1.3"/>
<text x="517.90" y="219.60" font-size="9.5" text-anchor="start" fill="#9a1520" stroke="#9a1520" >0.50</text>
<line x1="345.50" y1="326.80" x2="345.50" y2="331.80" stroke="#000" stroke-width="1.3"/>
<text x="345.50" y="342.80" font-size="9.5" text-anchor="middle" fill="#000" stroke="#000" >24 h</text>
<line x1="392.50" y1="326.80" x2="392.50" y2="331.80" stroke="#000" stroke-width="1.3"/>
<text x="392.50" y="342.80" font-size="9.5" text-anchor="middle" fill="#000" stroke="#000" >18 h</text>
<line x1="439.10" y1="326.80" x2="439.10" y2="331.80" stroke="#000" stroke-width="1.3"/>
<text x="439.10" y="342.80" font-size="9.5" text-anchor="middle" fill="#000" stroke="#000" >12 h</text>
<line x1="485.70" y1="326.80" x2="485.70" y2="331.80" stroke="#000" stroke-width="1.3"/>
<text x="485.70" y="342.80" font-size="9.5" text-anchor="middle" fill="#000" stroke="#000" >6 h</text>
<text x="415.85" y="355.50" font-size="10" text-anchor="middle" fill="#000" stroke="#000" >Lighting Duration</text>
<text x="311.30" y="206.60" font-size="14" text-anchor="start" fill="#000" stroke="#000" >d</text>
<rect x="325.1" y="204.7" width="12.5" height="8.7" fill="#b6d5d1" stroke="#4a4a4a" stroke-width="0.8"/>
<text x="345.70" y="213.00" font-size="10" text-anchor="start" fill="#000" stroke="#000" >Protein yield (g·L<tspan font-size="7" dy="-4.2">−1</tspan><tspan dy="4.2">)</tspan></text>
<path d="M324.2 222.8H328.6M334.9 222.8H336.1M337.4 222.8H338.5" stroke="#a3161e" stroke-width="1.5"/>
<polygon points="331.70,220.10 332.41,221.82 334.27,221.97 332.86,223.18 333.29,224.98 331.70,224.02 330.11,224.98 330.54,223.18 329.13,221.97 330.99,221.82" fill="#a3161e"/>
<text x="345.70" y="226.00" font-size="10" text-anchor="start" fill="#9a1520" stroke="#9a1520" >Protein content (g·g<tspan font-size="7" dy="-4.2">−1</tspan><tspan dy="4.2">)</tspan></text>
<text transform="translate(298.50,265.00) rotate(-90)" x="0" y="0" font-size="10" text-anchor="middle" fill="#000" stroke="#000">Protein yield (g·L<tspan font-size="7.00" dy="-3.60">−1</tspan><tspan dy="3.60">)</tspan></text>
<text transform="translate(545.10,264.30) rotate(-90)" x="0" y="0" font-size="10" text-anchor="middle" fill="#9a1520" stroke="#9a1520">Protein content (g·g<tspan font-size="7.00" dy="-3.60">−1</tspan><tspan dy="3.60">)</tspan></text>
</svg>
</body></html>
